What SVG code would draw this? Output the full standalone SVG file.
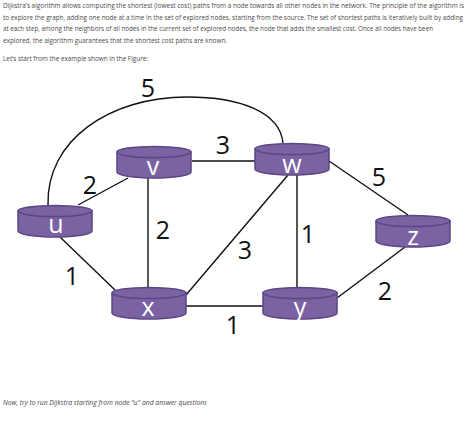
<svg xmlns="http://www.w3.org/2000/svg" width="474" height="445" viewBox="0 0 474 445">
<style>
.p{font-family:"Open Sans","Liberation Sans",sans-serif;font-size:6.5px;fill:#4a4a4a}
.it{font-style:italic}
.e{stroke:#111;stroke-width:1.4;fill:none}
.w{font-family:"Open Sans","Liberation Sans",sans-serif;font-size:25px;fill:#111;text-anchor:middle}
.body{fill:#7b62a3;stroke:#5a4585;stroke-width:1.5}
.top{fill:#7b62a3;stroke:#5a4585;stroke-width:1.5}
.lbl{font-family:"Open Sans","Liberation Sans",sans-serif;font-size:25px;fill:#fff;text-anchor:middle}
</style>
<defs>
<g id="cyl">
<path class="body" d="M0,6 L0,26 A37,6 0 0 0 74,26 L74,6 Z"/>
<ellipse class="top" cx="37" cy="6" rx="37" ry="5.5"/>
</g>
</defs>
<rect width="474" height="445" fill="#fff"/>
<g id="text">
<text class="p" x="3" y="7.5" textLength="461" lengthAdjust="spacingAndGlyphs">Dijkstra’s algorithm allows computing the shortest (lowest cost) paths from a node towards all other nodes in the network. The principle of the algorithm is</text>
<text class="p" x="3" y="19.5" textLength="460" lengthAdjust="spacingAndGlyphs">to explore the graph, adding one node at a time in the set of explored nodes, starting from the source. The set of shortest paths is iteratively built by adding</text>
<text class="p" x="3" y="31" textLength="430" lengthAdjust="spacingAndGlyphs">at each step, among the neighbors of all nodes in the current set of explored nodes, the node that adds the smallest cost. Once all nodes have been</text>
<text class="p" x="3" y="42.5" textLength="224" lengthAdjust="spacingAndGlyphs">explored, the algorithm guarantees that the shortest cost paths are known.</text>
<text class="p" x="3" y="61" textLength="145" lengthAdjust="spacingAndGlyphs">Let’s start from the example shown in the Figure:</text>
<text class="p it" x="3" y="405" textLength="204" lengthAdjust="spacingAndGlyphs">Now, try to run Dijkstra starting from node "u" and answer questions</text>
</g>
<g id="edges">
<path class="e" d="M48,205 C46,140 110,97 187,97 C240,97 280,112 283,143"/>
<line class="e" x1="78" y1="205" x2="128" y2="178"/>
<line class="e" x1="60" y1="237" x2="115" y2="290"/>
<line class="e" x1="148" y1="178" x2="148" y2="287"/>
<line class="e" x1="192" y1="161" x2="255" y2="161"/>
<line class="e" x1="288" y1="175" x2="186" y2="295"/>
<line class="e" x1="297" y1="175" x2="297" y2="287"/>
<line class="e" x1="329" y1="161" x2="408" y2="215"/>
<line class="e" x1="405" y1="247" x2="337" y2="298"/>
<line class="e" x1="186" y1="306" x2="263" y2="306"/>
<text class="w" x="148" y="97">5</text>
<text class="w" x="223" y="154">3</text>
<text class="w" x="90" y="194">2</text>
<text class="w" x="163" y="239">2</text>
<text class="w" x="72" y="285">1</text>
<text class="w" x="245" y="259">3</text>
<text class="w" x="308" y="243">1</text>
<text class="w" x="379" y="186">5</text>
<text class="w" x="385" y="300">2</text>
<text class="w" x="233" y="334">1</text>
</g>
<g id="node-u"><use href="#cyl" x="18" y="205"/><text class="lbl" x="56" y="233">u</text></g>
<g id="node-v"><use href="#cyl" x="117" y="146"/><text class="lbl" x="153" y="175">v</text></g>
<g id="node-w"><use href="#cyl" x="255" y="143"/><text class="lbl" x="292" y="173">w</text></g>
<g id="node-z"><use href="#cyl" x="376" y="215"/><text class="lbl" x="413" y="245">z</text></g>
<g id="node-x"><use href="#cyl" x="112" y="287"/><text class="lbl" x="148" y="316">x</text></g>
<g id="node-y"><use href="#cyl" x="263" y="287"/><text class="lbl" x="300" y="316">y</text></g>
</svg>
